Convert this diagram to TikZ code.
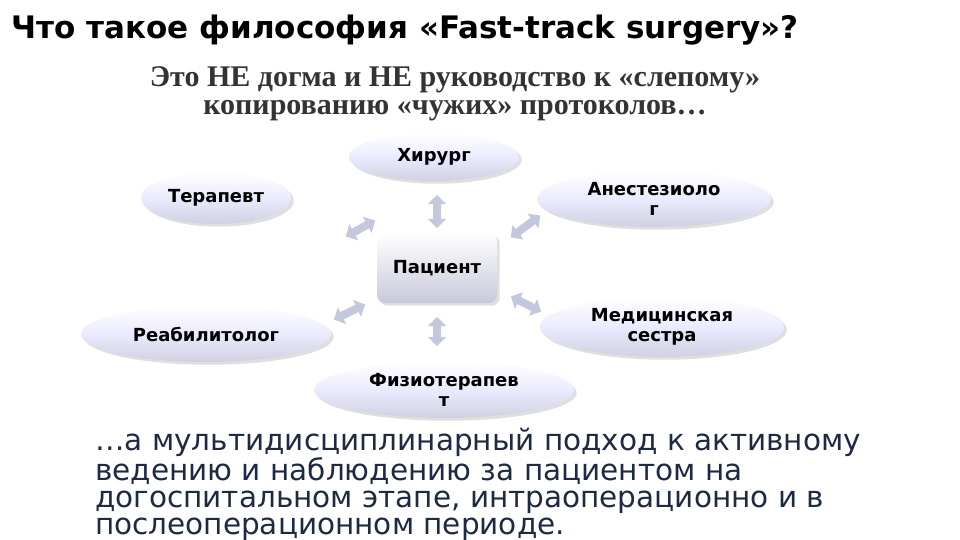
\documentclass[tikz,border=0pt]{standalone}
\usepackage{fontspec}
\setmainfont{DejaVu Sans}
\newfontfamily\serifb{Liberation Serif}
\usetikzlibrary{arrows.meta,shadows,shapes.geometric}
\definecolor{txt}{HTML}{1E2A44}
\definecolor{arr}{HTML}{C4C8DC}
\tikzset{
 role/.style={ellipse,draw=none,bottom color=blue!22!gray!30,top color=white,middle color=blue!8!white,drop shadow={opacity=0.25},font=\bfseries\fontsize{18}{20}\selectfont,align=center,inner sep=0pt},
 dbl/.style={line width=8pt,draw=arr,{Triangle[width=18pt,length=9pt]}-{Triangle[width=18pt,length=9pt]},shorten <=1pt,shorten >=1pt},
}
\begin{document}
\begin{tikzpicture}[x=1pt,y=-1pt]
\useasboundingbox (0,0) rectangle (960,540);
\node[anchor=west,font=\bfseries\fontsize{31}{34}\selectfont] (title) at (8,30) {Что такое философия «Fast-track surgery»?};
\node[align=center,font=\serifb\bfseries\fontsize{30}{28}\selectfont,text=black!80] (sub) at (455,94) {Это НЕ догма и НЕ руководство к «слепому»\\копированию «чужих» протоколов…};
\node[role,minimum width=170pt,minimum height=48pt] (hir) at (434,157) {Хирург};
\node[role,minimum width=150pt,minimum height=52pt] (ter) at (216,198) {Терапевт};
\node[role,minimum width=234pt,minimum height=56pt] (an) at (654,199) {Анестезиоло\\г};
\node[role,minimum width=250pt,minimum height=56pt] (reab) at (206,334) {Реабилитолог};
\node[role,minimum width=244pt,minimum height=60pt] (med) at (662,327) {Медицинская\\сестра};
\node[role,minimum width=260pt,minimum height=56pt] (fiz) at (444,390) {Физиотерапев\\т};
\node[rectangle,rounded corners=8pt,minimum width=120pt,minimum height=70pt,bottom color=blue!22!gray!35,top color=white,drop shadow={opacity=0.25},font=\bfseries\fontsize{18}{20}\selectfont] (pac) at (437,268) {Пациент};
\coordinate (a1) at (437,194); \coordinate (a2) at (437,229);
\coordinate (b1) at (345,237); \coordinate (b2) at (376,220);
\coordinate (c1) at (510,238); \coordinate (c2) at (541,215);
\coordinate (d1) at (333,320); \coordinate (d2) at (366,304);
\coordinate (e1) at (510,296); \coordinate (e2) at (542,312);
\coordinate (f1) at (437,316); \coordinate (f2) at (437,347);
\draw[dbl] (a1) -- (a2);
\draw[dbl] (b1) -- (b2);
\draw[dbl] (c1) -- (c2);
\draw[dbl] (d1) -- (d2);
\draw[dbl] (e1) -- (e2);
\draw[dbl] (f1) -- (f2);
\node[anchor=north west,align=left,text=txt,font=\fontsize{29.5}{27}\selectfont,inner sep=0pt] (bot) at (95,428) {…а мультидисциплинарный подход к активному\\ведению и наблюдению за пациентом на\\догоспитальном этапе, интраоперационно и в\\послеоперационном периоде.};
\end{tikzpicture}
\end{document}
